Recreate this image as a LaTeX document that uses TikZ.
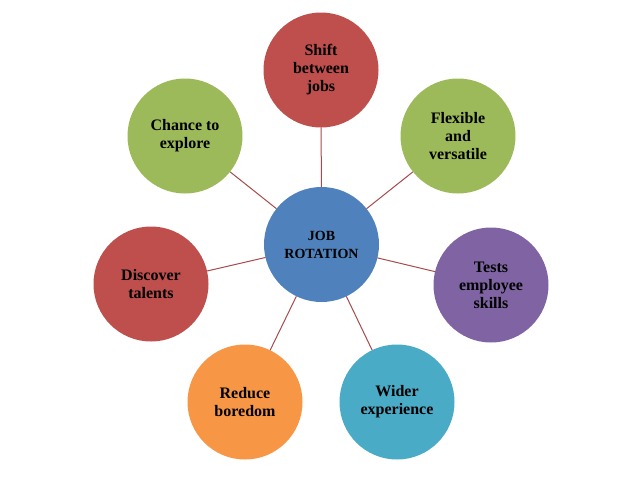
\documentclass[tikz,border=0pt]{standalone}
\usepackage{fontspec}
\setmainfont{Liberation Serif}
\usetikzlibrary{arrows}
\definecolor{ccqqqq}{rgb}{0.75,0.31,0.3}
\definecolor{zzccqq}{rgb}{0.61,0.73,0.35}
\definecolor{qqzzcc}{rgb}{0.5,0.39,0.64}
\definecolor{qqcccc}{rgb}{0.29,0.67,0.78}
\definecolor{ffqqqq}{rgb}{0.97,0.59,0.27}
\definecolor{qqqqcc}{rgb}{0.31,0.51,0.74}
\definecolor{zzqqqq}{rgb}{0.66,0.29,0.29}
\tikzset{
  bubble/.style={circle,inner sep=0pt,minimum size=115pt,align=center,
    font=\bfseries\fontsize{16}{18}\selectfont,text=black}
}
\begin{document}
\begin{tikzpicture}[line cap=round,line join=round,x=1pt,y=-1pt]
\useasboundingbox (0,0) rectangle (638,479);
% outer circles
\node[bubble,fill=ccqqqq] (shift) at (321,70) {Shift\\between\\jobs};
\node[bubble,fill=zzccqq] (flex) at (458,136) {Flexible\\and\\versatile};
\node[bubble,fill=qqzzcc] (tests) at (491,285) {Tests\\employee\\skills};
\node[bubble,fill=qqcccc] (wider) at (397,402) {Wider\\experience};
\node[bubble,fill=ffqqqq] (reduce) at (245,402) {Reduce\\boredom};
\node[bubble,fill=ccqqqq] (disc) at (151,284) {Discover\\talents};
\node[bubble,fill=zzccqq] (chance) at (185,136) {Chance to\\explore};
% centre
\node[bubble,fill=qqqqcc,font=\bfseries\fontsize{14}{18}\selectfont] (job) at (321.5,244.5) {JOB\\ROTATION};
\foreach \n in {shift,flex,tests,wider,reduce,disc,chance}
\draw [color=zzqqqq,line width=1pt] (job) -- (\n);
\end{tikzpicture}
\end{document}
